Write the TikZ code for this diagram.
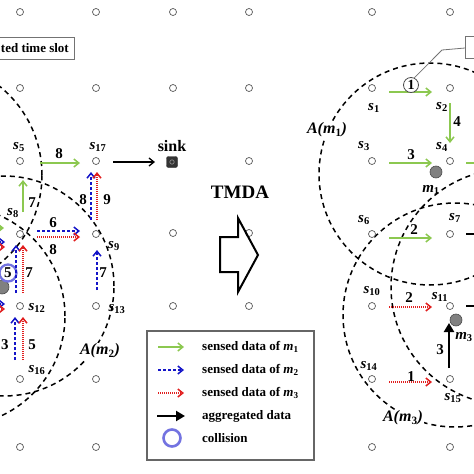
\documentclass[tikz,border=0pt]{standalone}
\usepackage{fontspec}
\setmainfont{Liberation Serif}
\usetikzlibrary{arrows.meta,calc}
\definecolor{gA}{RGB}{140,200,80}
\definecolor{bA}{RGB}{20,20,200}
\definecolor{rA}{RGB}{225,30,30}
\definecolor{colC}{RGB}{115,115,225}
\newcommand{\sv}[1]{{\bfseries\itshape s\textsubscript{\upshape #1}}}
\newcommand{\mv}[1]{{\bfseries\itshape m\textsubscript{\upshape #1}}}
\newcommand{\av}[1]{{\bfseries\itshape A(m\textsubscript{\upshape #1})}}
\begin{document}
\begin{tikzpicture}[x=1pt,y=-1pt,
  sensor/.style={circle,draw=black!65,line width=0.7pt,inner sep=0pt,minimum size=7pt},
  mnode/.style={circle,draw=black!70,fill=black!50,line width=0.6pt,inner sep=0pt,minimum size=12pt},
  slab/.style={font=\fontsize{15}{15}\selectfont,inner sep=0pt},
  num/.style={font=\fontsize{15}{15}\selectfont\bfseries,inner sep=0pt},
  alab/.style={font=\fontsize{16}{16}\selectfont,inner sep=1pt,fill=white},
  leg/.style={font=\fontsize{13}{13}\selectfont\bfseries,anchor=west,inner sep=0pt},
  area/.style={dash pattern=on 5pt off 4pt,line width=1.5pt},
  garr/.style={draw=gA,line width=1.5pt,-{Straight Barb[length=5pt,width=8pt]}},
  barr/.style={draw=bA,line width=1.5pt,dash pattern=on 3pt off 2pt,-{Straight Barb[length=5pt,width=8pt]}},
  rarr/.style={draw=rA,line width=1.5pt,dash pattern=on 1pt off 1pt,-{Straight Barb[length=5pt,width=8pt]}},
  karr/.style={draw=black,line width=2.6pt,-{Triangle[length=9pt,width=10pt]}},
  tarr/.style={draw=black,line width=1.3pt,-{Straight Barb[length=5pt,width=8pt]}},
]
\useasboundingbox (0,0) rectangle (474,474);
\fill[white] (0,0) rectangle (474,474);
\clip (0,0) rectangle (474,474);

% communication areas
\draw[area] (-72,175) circle (114pt);
\draw[area] (4,286) circle (110pt);
\draw[area] (-45,316) circle (110pt);
\draw[area] (430,174) circle (111pt);
\draw[area] (509,287) circle (118pt);
\draw[area] (455,315) circle (112pt);

% sensor grid
\foreach \x/\y/\n in {20/12/La1,20/88/La2,20/161/Ls5,20/234/Ls8,20/306/Ls12,20/379/Ls16,20/447/La7,
  96/12/Lb1,96/88/Lb2,96/161/Ls17,96/234/Ls9,96/306/Ls13,96/379/Lb6,96/447/Lb7,
  173/12/Lc1,173/88/Lc2,173/233/Lc4,173/306/Lc5,
  249/12/Ld1,249/88/Ld2,249/161/Ld3,249/233/Ld4,249/306/Ld5,
  372/12/Ra0,372/88/Rs1,372/161/Rs3,372/234/Rs6,372/306/Rs10,372/379/Rs14,372/447/Ra6,
  450/12/Rb0,450/88/Rs2,450/161/Rs4,450/234/Rs7,450/306/Rs11,450/379/Rs15,450/447/Rb6}
  \node[sensor] (\n) at (\x,\y) {};
\coordinate (Ls7) at (-57,234);
\coordinate (Ls11) at (-57,306);
\coordinate (Rs5) at (527,161);
\coordinate (Rs8) at (527,234);
\coordinate (Rs12) at (527,306);

% sink
\node[draw=black!85,fill=black!80,rounded corners=2pt,minimum size=11pt,inner sep=0pt] (sink) at (172,162) {};
\draw[black!45,line width=0.7pt] (sink.center) circle (2.2pt);
\node[font=\fontsize{16}{16}\selectfont\bfseries,inner sep=0pt] (sinkl) at (172,146) {sink};

% mobile nodes
\node[mnode,minimum size=14pt] (m2) at (2,287) {};
\node[mnode] (m1) at (436,172) {};
\node[mnode] (m3) at (456,320) {};
\node[slab] (m1l) at (431,190) {\mv{1}};
\node[slab] (m3l) at (464,337) {\mv{3}};

% collision
\node[circle,draw=colC,line width=2.3pt,minimum size=17pt,inner sep=0pt] (coll) at (8,273) {};

% allocated time slot box (cropped)
\draw[black!55,line width=1pt,fill=white] (-20,37) rectangle (74,59);
\node[font=\fontsize{13}{13}\selectfont\bfseries,anchor=east,inner sep=0pt] (tslot) at (69,48) {ted time slot};

% left panel arrows
\draw[garr] ($(Ls5)+(20,2)$) -- ($(Ls17)+(-16,2)$);
\draw[tarr] ($(Ls17)+(17,1)$) -- ($(sink)+(-17,0)$);
\draw[garr] ($(Ls8)+(3,-22)$) -- ($(Ls5)+(3,19)$);
\draw[garr] ($(Ls7)+(20,-6)$) -- ($(Ls8)+(-16,-6)$);
\draw[barr] ($(Ls7)+(20,8)$) -- ($(Ls8)+(-15,8)$);
\draw[rarr] ($(Ls7)+(20,13)$) -- ($(Ls8)+(-15,13)$);
\draw[barr] ($(Ls11)+(20,-2)$) -- ($(Ls12)+(-15,-2)$);
\draw[rarr] ($(Ls11)+(20,3)$) -- ($(Ls12)+(-15,3)$);
\draw[barr] ($(Ls12)+(-4,-13)$) -- ($(Ls8)+(-4,11)$);
\draw[rarr] ($(Ls12)+(3,-13)$) -- ($(Ls8)+(3,11)$);
\draw[barr] ($(Ls16)+(-5,-19)$) -- ($(Ls12)+(-5,11)$);
\draw[rarr] ($(Ls16)+(3,-19)$) -- ($(Ls12)+(3,11)$);
\draw[barr] ($(Ls8)+(17,-3)$) -- ($(Ls9)+(-16,-3)$);
\draw[rarr] ($(Ls8)+(17,3)$) -- ($(Ls9)+(-16,3)$);
\draw[barr] ($(Ls9)+(-5,-14)$) -- ($(Ls17)+(-5,11)$);
\draw[rarr] ($(Ls9)+(1,-14)$) -- ($(Ls17)+(1,11)$);
\draw[barr] ($(Ls13)+(1,-16)$) -- ($(Ls9)+(1,16)$);

% left panel labels
\node[slab] (l5) at (19,147) {\sv{5}};
\node[slab] (l17) at (98,147) {\sv{17}};
\node[slab] (l8) at (13,213) {\sv{8}};
\node[slab] (l9) at (114,246) {\sv{9}};
\node[slab] (l12) at (37,308) {\sv{12}};
\node[slab] (l13) at (117,309) {\sv{13}};
\node[slab] (l16) at (37,370) {\sv{16}};
\node[num] (n1) at (59,154) {8};
\node[num] (n2) at (32,203) {7};
\node[num] (n3) at (53,223) {6};
\node[num] (n4) at (53,250) {8};
\node[num] (n5) at (83,200) {8};
\node[num] (n6) at (107,200) {9};
\node[num] (n7) at (29,273) {7};
\node[num] (n8) at (8,273) {5};
\node[num] (n9) at (103,273) {7};
\node[num] (n10) at (5,345) {3};
\node[num] (n11) at (32,345) {5};
\node[alab] (am2) at (100,351) {\av{2}};

% middle
\node[font=\fontsize{19}{19}\selectfont\bfseries,inner sep=0pt] (tmda) at (240,192) {TMDA};
\draw[line width=2pt,line join=miter] (220,237) -- (238,237) -- (238,218) -- (258,255) -- (238,292) -- (238,272) -- (220,272) -- cycle;

% right panel arrows
\draw[garr] ($(Rs1)+(17,4)$) -- ($(Rs2)+(-18,4)$);
\draw[garr] ($(Rs2)+(0,15)$) -- ($(Rs4)+(0,-18)$);
\draw[garr] ($(Rs3)+(17,2)$) -- ($(Rs4)+(-18,2)$);
\draw[garr] ($(Rs4)+(16,2)$) -- ($(Rs5)+(-18,2)$);
\draw[garr] ($(Rs6)+(17,4)$) -- ($(Rs7)+(-18,4)$);
\draw[karr] ($(Rs7)+(16,0)$) -- ($(Rs8)+(-18,0)$);
\draw[rarr] ($(Rs10)+(17,1)$) -- ($(Rs11)+(-18,1)$);
\draw[karr] ($(Rs11)+(16,0)$) -- ($(Rs12)+(-18,0)$);
\draw[karr] ($(Rs15)+(-1,-11)$) -- ($(Rs11)+(-1,17)$);
\draw[rarr] ($(Rs14)+(17,3)$) -- ($(Rs15)+(-18,3)$);

% right panel labels
\node[slab] (r1) at (374,108) {\sv{1}};
\node[slab] (r2) at (442,107) {\sv{2}};
\node[slab] (r3) at (364,146) {\sv{3}};
\node[slab] (r4) at (442,147) {\sv{4}};
\node[slab] (r6) at (364,220) {\sv{6}};
\node[slab] (r7) at (455,218) {\sv{7}};
\node[slab] (r10) at (372,291) {\sv{10}};
\node[slab] (r11) at (440,297) {\sv{11}};
\node[slab] (r14) at (369,366) {\sv{14}};
\node[slab] (r15) at (453,398) {\sv{15}};
\node[circle,draw=black!70,line width=0.8pt,minimum size=15pt,inner sep=0pt,font=\fontsize{14}{14}\selectfont\bfseries,fill=white] (c1) at (411,85) {1};
\node[num] (q1) at (457,122) {4};
\node[num] (q2) at (411,155) {3};
\node[num] (q3) at (414,230) {2};
\node[num] (q4) at (409,298) {2};
\node[num] (q5) at (440,350) {3};
\node[num] (q6) at (411,377) {1};
\node[alab] (am1) at (327,130) {\av{1}};
\node[alab] (am3) at (403,418) {\av{3}};
\draw[black!55,line width=0.8pt] (465,36) rectangle (500,58);
\coordinate (cbox) at (465,48);
\draw[black!55,line width=0.8pt] (c1.65) -- (442,50) -- (cbox);

% legend
\draw[black!60,line width=1.3pt,fill=white] (147,331) rectangle (314,460);
\coordinate (g1a) at (158,347); \coordinate (g1b) at (184,347);
\coordinate (g2a) at (158,370); \coordinate (g2b) at (184,370);
\coordinate (g3a) at (158,393); \coordinate (g3b) at (184,393);
\coordinate (g4a) at (157,416); \coordinate (g4b) at (185,416);
\draw[garr] (g1a) -- (g1b);
\draw[barr] (g2a) -- (g2b);
\draw[rarr] (g3a) -- (g3b);
\draw[karr] (g4a) -- (g4b);
\node[circle,draw=colC,line width=2.6pt,minimum size=17pt,inner sep=0pt] (lgc) at (172,438) {};
\node[leg] (t1) at (202,347) {sensed data of \mv{1}};
\node[leg] (t2) at (202,370) {sensed data of \mv{2}};
\node[leg] (t3) at (202,393) {sensed data of \mv{3}};
\node[leg] (t4) at (202,416) {aggregated data};
\node[leg] (t5) at (202,438) {collision};
\end{tikzpicture}
\end{document}
